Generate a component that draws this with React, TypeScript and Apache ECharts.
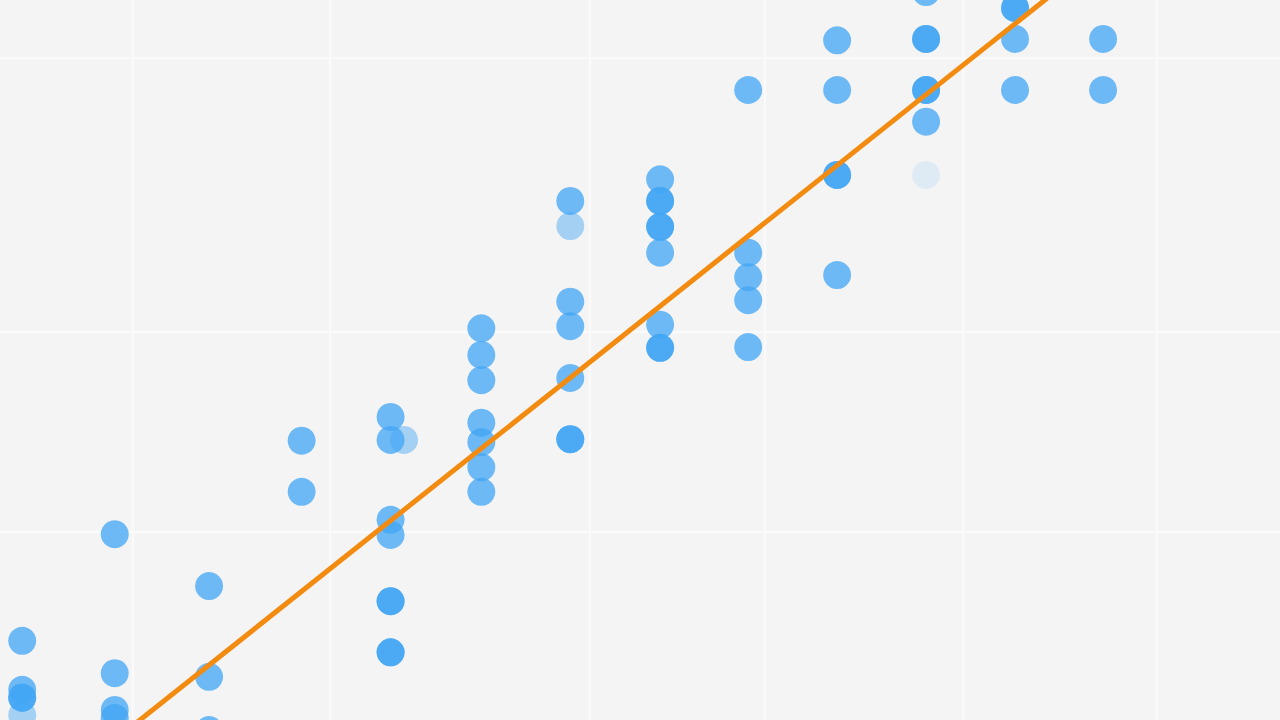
import React, { useEffect, useRef } from "react";
import * as echarts from "echarts";

// ---- Data ----
// Axis extents (data units visible in the frame)
const xMin = 0.683;
const xMax = 14.929;
const yMin = 0;
const yMax = 100;

// Grid line positions (data units)
const xGridValues = [2.163, 4.356, 7.249, 9.197, 11.401, 13.56];
const yGridValues = [91.9, 53.9, 26.1];

// Main observations (duplicates are overlapping points)
const pointsX = [
  0.93, 0.93, 0.93, 0.93,
  1.96, 1.96, 1.96, 1.96,
  3.01, 3.01, 3.01,
  4.04, 4.04,
  5.03, 5.03, 5.03, 5.03, 5.03, 5.03, 5.03, 5.03,
  6.04, 6.04, 6.04, 6.04, 6.04, 6.04, 6.04,
  7.03, 7.03, 7.03, 7.03, 7.03, 7.03,
  8.03, 8.03, 8.03, 8.03, 8.03, 8.03, 8.03, 8.03, 8.03,
  9.01, 9.01, 9.01, 9.01, 9.01,
  10.0, 10.0, 10.0, 10.0, 10.0,
  10.99, 10.99, 10.99, 10.99, 10.99, 10.99,
  11.98, 11.98, 11.98, 11.98,
  12.96, 12.96,
];
const pointsY = [
  11.0, 4.2, 3.1, 3.1,
  25.8, 6.5, 1.4, 0.3,
  18.6, 6.0, -1.4,
  38.8, 31.7,
  42.1, 38.9, 27.8, 25.7, 16.5, 16.5, 9.4, 9.4,
  54.4, 50.7, 47.2, 41.3, 38.6, 35.1, 31.7,
  72.1, 58.1, 54.7, 47.5, 39.0, 39.0,
  75.1, 72.1, 72.1, 68.5, 68.5, 64.9, 54.9, 51.7, 51.7,
  87.5, 64.9, 61.5, 58.3, 51.8,
  94.4, 87.5, 75.7, 75.7, 61.8,
  101.1, 94.6, 94.6, 87.5, 87.5, 83.1,
  98.9, 98.9, 94.6, 87.5,
  94.6, 87.5,
];

// Points that are fading in (lighter)
const fadedX = [7.03, 5.18, 0.93];
const fadedY = [68.6, 38.9, 0.7];

// Nearly invisible point
const ghostX = [10.99];
const ghostY = [75.7];

// Trend line (least-squares fit as drawn)
const trendSlope = 9.929;
const trendIntercept = -22.25;

const zip = (xs: number[], ys: number[]) => xs.map((x, i) => [x, ys[i]]);

export default function App() {
  const ref = useRef<HTMLDivElement>(null);

  useEffect(() => {
    if (!ref.current) return;
    const chart = echarts.init(ref.current, null, { renderer: "svg" });

    const gridStyle = { color: "#fafafa", width: 2.5 };
    const gridSeries: any[] = [
      ...xGridValues.map((v) => ({
        type: "line",
        data: [
          [v, yMin - 10],
          [v, yMax + 10],
        ],
        showSymbol: false,
        silent: true,
        lineStyle: gridStyle,
        z: 1,
      })),
      ...yGridValues.map((v) => ({
        type: "line",
        data: [
          [xMin - 1, v],
          [xMax + 1, v],
        ],
        showSymbol: false,
        silent: true,
        lineStyle: gridStyle,
        z: 1,
      })),
    ];

    const dotColor = "#42a5f5";

    chart.setOption({
      animation: false,
      backgroundColor: "#f4f4f4",
      grid: { left: 0, right: 0, top: 0, bottom: 0, containLabel: false },
      xAxis: { type: "value", min: xMin, max: xMax, show: false },
      yAxis: { type: "value", min: yMin, max: yMax, show: false },
      series: [
        ...gridSeries,
        {
          type: "scatter",
          data: zip(ghostX, ghostY),
          symbolSize: 28,
          clip: false,
          itemStyle: { color: dotColor, opacity: 0.12 },
          z: 2,
        },
        {
          type: "scatter",
          data: zip(fadedX, fadedY),
          symbolSize: 28,
          clip: false,
          itemStyle: { color: dotColor, opacity: 0.45 },
          z: 2,
        },
        {
          type: "scatter",
          data: zip(pointsX, pointsY),
          symbolSize: 28,
          clip: false,
          itemStyle: { color: dotColor, opacity: 0.76 },
          z: 3,
        },
        {
          type: "line",
          data: [
            [xMin, trendSlope * xMin + trendIntercept],
            [xMax, trendSlope * xMax + trendIntercept],
          ],
          showSymbol: false,
          silent: true,
          lineStyle: { color: "#f38b10", width: 5 },
          z: 5,
        },
      ],
    });

    return () => chart.dispose();
  }, []);

  return (
    <div
      ref={ref}
      style={{ position: "fixed", left: 0, top: 0, width: 1280, height: 720 }}
    />
  );
}
